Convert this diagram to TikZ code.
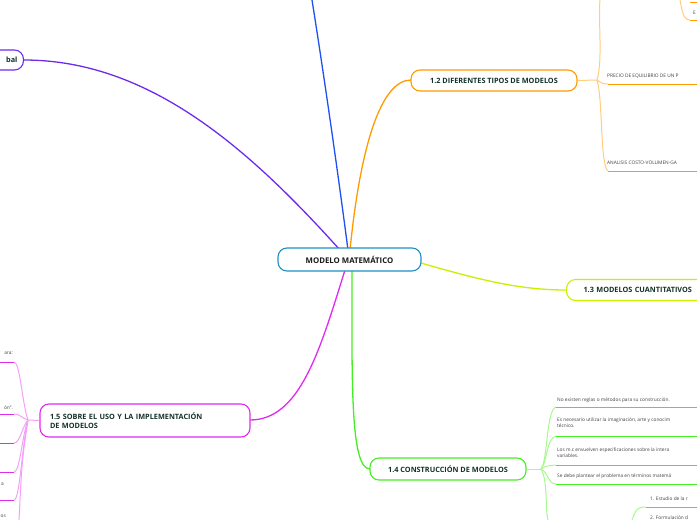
\documentclass[tikz,border=0pt]{standalone}
\usepackage{fontspec}
\setmainfont{Open Sans}
\begin{document}
\begin{tikzpicture}[x=1pt,y=-1pt,
 topic/.style={draw,rounded corners=9pt,line width=1.1pt,fill=white,font=\bfseries\fontsize{7.3}{9.5}\selectfont,text={rgb,255:red,20;green,50;blue,40},inner sep=0pt,align=left},
 leaf/.style={font=\fontsize{4.8}{6}\selectfont,text=black!75,anchor=west,inner sep=0pt,align=left},
 ln/.style={line width=1pt},
 br/.style={line width=1.3pt}]
\useasboundingbox (0,0) rectangle (697,520);
\definecolor{cblue}{HTML}{1E90C8}
\definecolor{cpur}{HTML}{6E2AF0}
\definecolor{cdblue}{HTML}{2050F0}
\definecolor{cor}{HTML}{FF9A00}
\definecolor{cor2}{HTML}{FFCC80}
\definecolor{cyel}{HTML}{CCEE00}
\definecolor{cgr}{HTML}{44EE22}
\definecolor{cgr2}{HTML}{A8F890}
\definecolor{cmag}{HTML}{E02AF0}
\definecolor{cmag2}{HTML}{F4A0F8}
% branches from center
\draw[br,cdblue] (348,250) .. controls (335,150) and (320,50) .. (312,0);
\draw[br,cpur] (340,250) .. controls (250,150) and (150,60) .. (24,60);
\draw[br,cor] (350,250) .. controls (360,150) and (380,80) .. (411,80);
\draw[br,cyel] (421,263) .. controls (480,280) and (520,290) .. (566,290);
\draw[br,cgr] (352,270) .. controls (352,380) and (350,469) .. (370,469);
\draw[br,cmag] (345,270) .. controls (320,350) and (300,420) .. (250,420);
% center
\node[topic,draw=cblue,minimum width=143pt,minimum height=23pt,font=\bfseries\fontsize{7.8}{9.5}\selectfont,text=black!90] (c) at (349.5,259.5) {MODELO MATEMÁTICO};
% bal
\node[topic,draw=cpur,anchor=east,minimum height=20pt,text width=40pt,align=right] (bal) at (24,60) {bal\hspace*{6pt}};
% 1.2
\node[topic,draw=cor,minimum width=166pt,minimum height=21pt] (n12) at (494,80.5) {1.2 DIFERENTES TIPOS DE MODELOS};
\coordinate (f12) at (597,80);
\draw[ln,cor2] (n12.east) -- (f12);
\draw[ln,cor2] (f12) .. controls (603,60) and (598,20) .. (600,0);
\draw[ln,cor2] (f12) .. controls (603,84) .. (608,84);
\draw[ln,cor] (608,84) -- (697,84);
\draw[ln,cor2] (f12) .. controls (603,100) and (600,165) .. (608,171);
\draw[ln,cor] (608,171) -- (697,171);
\node[leaf] (p1) at (607,76) {PRECIO DE EQUILIBRIO DE UN P};
\node[leaf] (p2) at (607,163) {ANALISIS COSTO-VOLUMEN-GA};
\draw[ln,cor2] (680,0) .. controls (682,10) and (683,20) .. (690,20);
\draw[ln,cor] (690,20) -- (697,20);
\draw[ln,cor] (690,2) -- (697,2);
\node[leaf] (e1) at (693,13) {E};
% 1.3
\node[topic,draw=cyel,anchor=west,minimum width=150pt,minimum height=21pt,text width=140pt] (n13) at (566,290) {\hspace*{12pt}1.3 MODELOS CUANTITATIVOS};
% 1.4
\node[topic,draw=cgr,minimum width=156pt,minimum height=22pt] (n14) at (448,469) {1.4 CONSTRUCCIÓN DE MODELOS};
\coordinate (f14) at (541,469);
\draw[ln,cgr2] (n14.east) -- (f14);
\foreach \yy in {407,436}{
  \draw[ln,cgr2] (f14) .. controls (548,460) and (546,\yy+3) .. (556,\yy);
  \draw[ln,cgr] (556,\yy) -- (697,\yy);}
\draw[ln,cgr2] (f14) .. controls (546,466) .. (556,465);
\draw[ln,cgr] (556,465) -- (697,465);
\draw[ln,cgr2] (f14) .. controls (548,472) and (548,484) .. (556,484);
\draw[ln,cgr] (556,484) -- (697,484);
\draw[ln,cgr2] (f14) .. controls (548,480) and (545,510) .. (548,520);
\draw[ln,cgr2] (632,520) .. controls (636,510) and (636,507) .. (646,507);
\draw[ln,cgr] (646,507) -- (697,507);
\node[leaf] (g1) at (557,400) {No existen reglas o métodos para su construcción.};
\node[leaf] (g2) at (557,423) {Es necesario utilizar la imaginación, arte y conocim\\técnico.};
\node[leaf] (g3) at (557,453) {Los m.c envuelven especificaciones sobre la intera\\variables.};
\node[leaf] (g4) at (557,476) {Se debe plantear el problema en términos matemá};
\node[leaf] (g5) at (650,499) {1. Estudio de la r};
\node[leaf] (g6) at (650,517.5) {2. Formulación d};
% 1.5
\node[topic,draw=cmag,minimum width=210pt,minimum height=33pt,text width=190pt] (n15) at (145,420.5) {1.5 SOBRE EL USO Y LA IMPLEMENTACIÓN\\DE MODELOS};
\coordinate (f15) at (28,420);
\draw[ln,cmag2] (n15.west) -- (f15);
\foreach \yy in {362,414,443,472,500}{
  \draw[ln,cmag2] (f15) .. controls (22,\yy*0.3+294) and (20,\yy) .. (14,\yy);
  \draw[ln,cmag] (14,\yy) -- (0,\yy);}
\draw[ln,cmag2] (f15) .. controls (22,460) .. (19,520);
\node[leaf,anchor=east] (m1) at (13,353) {ara:};
\node[leaf,anchor=east] (m2) at (13,408) {ón".};
\node[leaf,anchor=east] (m3) at (4,484) {a};
\node[leaf,anchor=east] (m4) at (6,516) {os};
\end{tikzpicture}
\end{document}
